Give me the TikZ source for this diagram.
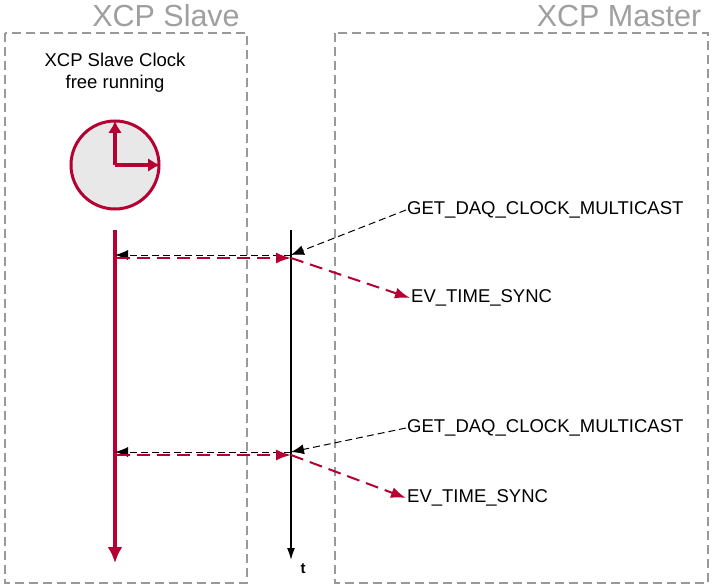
\documentclass[tikz,border=0pt]{standalone}
\usepackage{fontspec}
\setmainfont{Liberation Sans}
\usetikzlibrary{arrows.meta}
\definecolor{cred}{RGB}{180,0,50}
\begin{document}
\begin{tikzpicture}[x=1pt,y=-1pt,
  box/.style={draw=gray!80,dash pattern=on 9pt off 5pt,line width=1.5pt},
  ttl/.style={text=gray!75,font=\fontsize{30.5}{34}\selectfont},
  lbl/.style={font=\fontsize{18.5}{21}\selectfont,anchor=west,inner sep=1pt},
  blk/.style={draw=black,line width=1pt,dash pattern=on 7pt off 4pt,-{Latex[length=13pt,width=10pt]}},
  rd/.style={draw=cred,line width=2pt,dash pattern=on 13pt off 7pt,-{Latex[length=15pt,width=11pt]}}]
\useasboundingbox (0,0) rectangle (714,588);
\draw[box] (5,33) rectangle (247,583);
\draw[box] (335,33) rectangle (708,583);
\node[ttl] (ts) at (166,16) {XCP Slave};
\node[ttl] (tm) at (619,16) {XCP Master};
\node[font=\fontsize{18.5}{22}\selectfont,align=center] (cl) at (115,73) {XCP Slave Clock\\free running};
\node[circle,draw=cred,fill=gray!18,line width=3pt,minimum size=88pt,inner sep=0] (clk) at (115,165) {};
\draw[cred,line width=3.5pt,-{Latex[length=12pt,width=14pt]}] (clk.center) -- (115,121);
\draw[cred,line width=3.5pt,-{Latex[length=12pt,width=14pt]}] (clk.center) -- (160,165);
\coordinate (s0) at (115,230); \coordinate (s1) at (115,563);
\draw[cred,line width=4pt,-{Latex[length=16pt,width=15pt]}] (s0) -- (s1);
\coordinate (m0) at (291,230); \coordinate (m1) at (291,560);
\draw[line width=1.5pt,-{Latex[length=12pt,width=8pt]}] (m0) -- (m1);
\node[font=\fontsize{15}{17}\selectfont\bfseries] (t) at (303,569) {t};
\foreach \i/\y/\gy/\ey/\gx/\ex in {a/255/210/298/406/410, b/452/428/498/406/406}{
  \node[lbl] (g\i) at (\gx,\gy) {GET\_DAQ\_CLOCK\_MULTICAST};
  \node[lbl] (e\i) at (\ex,\ey) {EV\_TIME\_SYNC};
  \coordinate (pm\i) at (291,\y);
  \coordinate (ps\i) at (115,\y);
  \coordinate (qs\i) at (117,\y+3);
  \coordinate (qm\i) at (291,\y+3);
  \draw[blk] (g\i.west) -- (pm\i);
  \draw[blk] (pm\i) -- (ps\i);
  \draw[rd] (qs\i) -- (qm\i);
  \draw[rd] (qm\i) -- (e\i.west);
}
\end{tikzpicture}
\end{document}
